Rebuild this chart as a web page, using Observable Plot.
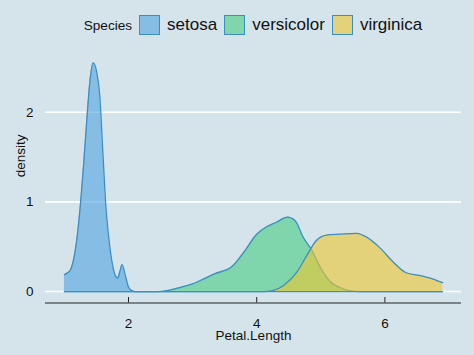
<!DOCTYPE html>
<html>
<head>
<meta charset="utf-8">
<script src="https://cdn.jsdelivr.net/npm/d3@7"></script>
<script src="https://cdn.jsdelivr.net/npm/@observablehq/plot@0.6"></script>
<style>
  html, body { margin: 0; padding: 0; background: #d5e4eb; }
  body { width: 474px; height: 355px; overflow: hidden; font-family: "Liberation Sans", Arial, sans-serif; color: #111; }
  #legend { position: relative; width: 474px; height: 50px; }
  #legend .row { position: absolute; left: 45px; width: 416px; top: 15px; height: 20px;
                 display: flex; align-items: center; justify-content: center; gap: 7px; }
  #legend .title { font-size: 13.6px; }
  #legend .key { width: 21px; height: 20px; box-sizing: border-box; border: 1px solid #3a8ec4; }
  #legend .lab { font-size: 17px; }
</style>
</head>
<body>
<div id="legend"><div class="row"></div></div>
<div id="chart"></div>
<script>
// ---- data ----
const species = ["setosa", "versicolor", "virginica"];

const setosaLength  = [1.0, 1.05, 1.1, 1.15, 1.2, 1.25, 1.3, 1.35, 1.4, 1.45, 1.5, 1.55, 1.6, 1.65, 1.7, 1.75, 1.8, 1.83, 1.86, 1.9, 1.95, 2.0, 2.05, 2.1, 6.9];
const setosaDensity = [0.19, 0.21, 0.25, 0.38, 0.62, 0.97, 1.42, 1.92, 2.36, 2.55, 2.46, 2.2, 1.55, 0.92, 0.55, 0.3, 0.17, 0.15, 0.21, 0.30, 0.18, 0.05, 0.01, 0, 0];

const versicolorLength  = [1.0, 2.45, 2.6, 2.8, 3.0, 3.2, 3.35, 3.6, 3.8, 4.0, 4.15, 4.3, 4.48, 4.6, 4.73, 4.86, 5.0, 5.15, 5.3, 5.45, 5.6, 6.9];
const versicolorDensity = [0, 0, 0.01, 0.045, 0.085, 0.15, 0.2, 0.27, 0.44, 0.64, 0.72, 0.77, 0.83, 0.79, 0.6, 0.46, 0.26, 0.11, 0.045, 0.01, 0, 0];

const virginicaLength  = [1.0, 4.1, 4.25, 4.42, 4.62, 4.78, 4.93, 5.09, 5.3, 5.56, 5.71, 5.92, 6.13, 6.33, 6.54, 6.75, 6.9];
const virginicaDensity = [0, 0, 0.01, 0.067, 0.21, 0.4, 0.57, 0.63, 0.64, 0.65, 0.61, 0.49, 0.33, 0.21, 0.18, 0.14, 0.10];

const xTicks = [2, 4, 6];
const yTicks = [0, 1, 2];

// ---- styling ----
const fills = ["#50a3df", "#46cb82", "#ecc62f"];
const fillAlpha = 0.6;
const outline = "#3a8ec4";
const FS = 13.5;

const lengths = {setosa: setosaLength, versicolor: versicolorLength, virginica: virginicaLength};
const densities = {setosa: setosaDensity, versicolor: versicolorDensity, virginica: virginicaDensity};
const rows = species.flatMap(s => lengths[s].map((x, i) => ({species: s, x, y: densities[s][i]})));

const xMin = d3.min(rows, d => d.x), xMax = d3.max(rows, d => d.x);
const yMax = d3.max(rows, d => d.y);
const xPad = (xMax - xMin) * 0.05;
const xDomain = [xMin - xPad, xMax + xPad];
const yDomain = [-0.05 * yMax, 1.05 * yMax];

const W = 474, H = 305, mT = 1, mB = 52.5, mL = 45, mR = 13;
const frameH = H - mT - mB;

// legend
const row = document.querySelector("#legend .row");
row.innerHTML = `<span class="title">Species</span>` + species.map((s, i) => {
  const c = d3.color(fills[i]); c.opacity = fillAlpha;
  return `<span class="key" style="background:${c.formatRgb()}"></span><span class="lab">${s}</span>`;
}).join("");

const marks = [
  Plot.ruleY(yTicks, {stroke: "white", strokeWidth: 1.6}),
  ...species.flatMap(s => {
    const data = rows.filter(r => r.species === s);
    return [
      Plot.areaY(data, {x: "x", y: "y", fill: "species", fillOpacity: fillAlpha, curve: "monotone-x"}),
      Plot.lineY(data, {x: "x", y: "y", stroke: outline, strokeWidth: 1.3, curve: "monotone-x"})
    ];
  }),
  Plot.ruleY([yDomain[0]], {stroke: "#222", strokeWidth: 1}),
  Plot.ruleX(xTicks, {stroke: "#222", strokeWidth: 1, insetTop: frameH - 5.5}),
  Plot.axisX({ticks: xTicks, tickFormat: d3.format("d"), tickSize: 0, tickPadding: 15, label: null, fill: "#111", fontSize: FS}),
  Plot.axisY({ticks: yTicks, tickFormat: d3.format("d"), tickSize: 0, tickPadding: 12, label: null, fill: "#111", fontSize: FS}),
  Plot.text(["Petal.Length"], {frameAnchor: "bottom", dy: 33, lineAnchor: "middle", fill: "#111", fontSize: FS}),
  Plot.text(["density"], {frameAnchor: "left", rotate: -90, dx: -25, lineAnchor: "middle", fill: "#111", fontSize: FS})
];

const chart = Plot.plot({
  width: W, height: H,
  marginTop: mT, marginBottom: mB, marginLeft: mL, marginRight: mR,
  x: {domain: xDomain},
  y: {domain: yDomain},
  color: {domain: species, range: fills},
  style: {background: "none", fontFamily: "'Liberation Sans', Arial, sans-serif", fontSize: "13.5px", overflow: "visible"},
  marks
});
document.getElementById("chart").appendChild(chart);
</script>
</body>
</html>
